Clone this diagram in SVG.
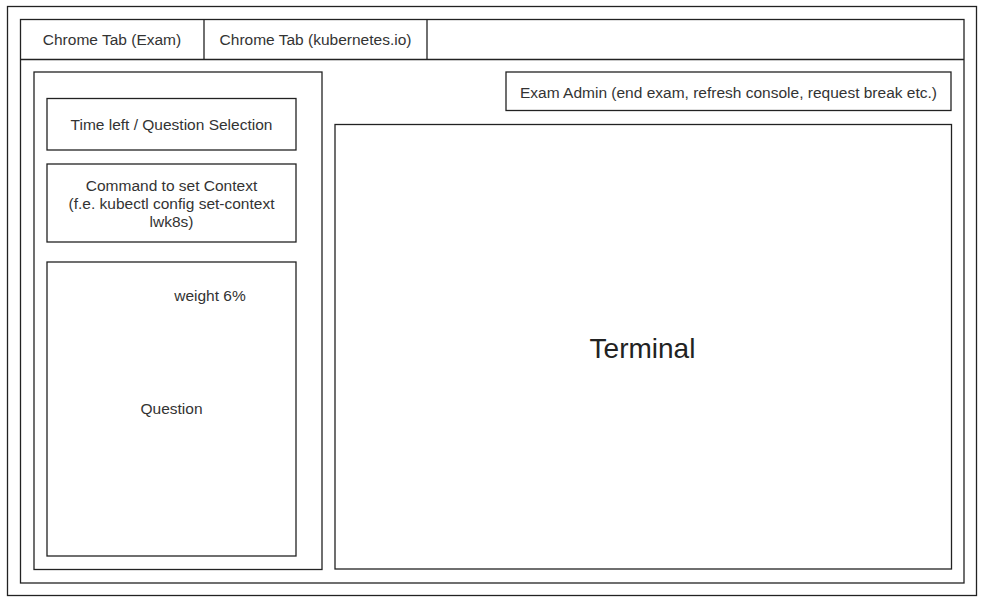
<svg xmlns="http://www.w3.org/2000/svg" width="986" height="604" viewBox="0 0 986 604">
<style>
rect{fill:#fff;stroke:#222;stroke-width:1.3}
line{stroke:#222;stroke-width:1.3}
text{font-family:"Liberation Sans",Arial,sans-serif;font-size:15.5px;fill:#333;text-anchor:middle}
.big{font-size:28px;fill:#222}
</style>
<rect width="986" height="604" style="stroke:none"/>
<g id="frame"><rect x="7.5" y="6.5" width="969" height="589"/></g>
<g id="browser"><rect x="20.5" y="19.5" width="943.5" height="563.5"/>
<line x1="20.5" y1="59.5" x2="964" y2="59.5"/></g>
<g id="tab1"><line x1="204" y1="19.5" x2="204" y2="59.5"/><text x="112" y="44.5">Chrome Tab (Exam)</text></g>
<g id="tab2"><line x1="427" y1="19.5" x2="427" y2="59.5"/><text x="315.5" y="44.5">Chrome Tab (kubernetes.io)</text></g>
<g id="leftpanel"><rect x="34" y="72" width="288" height="497.5"/></g>
<g id="timeleft"><rect x="47" y="98.5" width="249" height="51.5"/><text x="171.5" y="130">Time left / Question Selection</text></g>
<g id="context"><rect x="47" y="164" width="249" height="78"/>
<text x="171.5" y="190.5">Command to set Context</text>
<text x="171.5" y="208.5">(f.e. kubectl config set-context</text>
<text x="171.5" y="226.5">lwk8s)</text></g>
<g id="question"><rect x="47" y="262" width="249" height="294"/>
<text x="210" y="300.5">weight 6%</text>
<text x="171.5" y="413.5">Question</text></g>
<g id="examadmin"><rect x="506" y="72" width="445" height="38.5"/><text x="728.5" y="97.5">Exam Admin (end exam, refresh console, request break etc.)</text></g>
<g id="terminal"><rect x="335" y="124.5" width="616.5" height="444.5"/><text class="big" x="642.5" y="358">Terminal</text></g>
<g id="connectors"></g>
</svg>
